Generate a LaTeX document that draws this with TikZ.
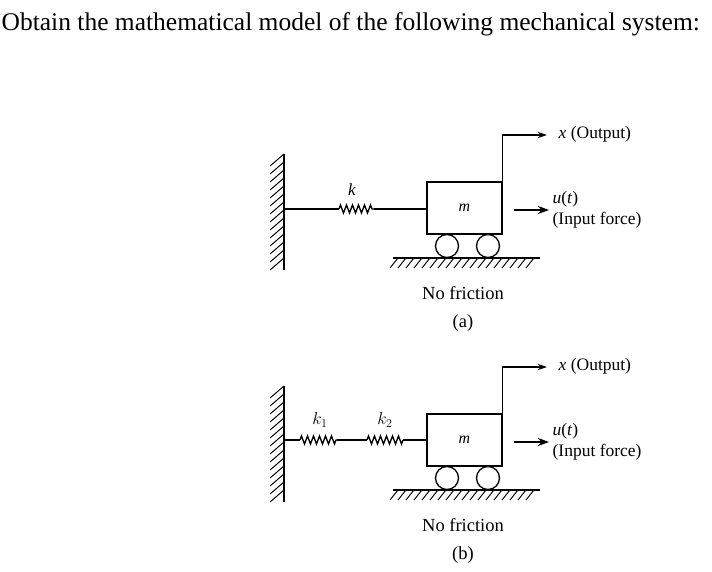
\documentclass[tikz,border=0pt]{standalone}
\usepackage{fontspec}
\setmainfont{Liberation Serif}
\usetikzlibrary{decorations.pathmorphing,arrows.meta}
\begin{document}
\begin{tikzpicture}[x=1pt,y=-1pt,line width=1.3pt,
  spring/.style={decorate,decoration={zigzag,segment length=6pt,amplitude=4pt}},
  lbl/.style={font=\fontsize{17.5}{20}\selectfont,anchor=west,inner sep=0},
  captxt/.style={font=\fontsize{18.5}{21}\selectfont,inner sep=0},
  mass/.style={draw,minimum width=75pt,minimum height=52pt,inner sep=0}]
\useasboundingbox (0,0) rectangle (712,572);
\node[anchor=west,inner sep=0,font=\fontsize{25.5}{28}\selectfont] (title) at (1,24) {Obtain the mathematical model of the following mechanical system:};
\foreach \dy/\tag in {0/a,232/b}{
 \begin{scope}[yshift=-\dy]
  \draw (284,154) -- (284,270);
  \foreach \y in {160,168,...,270} \draw[line width=1pt] (284,\y-6) -- (270,\y+6);
  \draw (393,258) -- (540,258);
  \foreach \x in {398,406,...,540} \draw[line width=1pt] (\x,258) -- (\x-8,268);
  \node[mass] (m\tag) at (464.5,208) {\itshape\fontsize{16}{18}\selectfont m};
  \draw (447,246) circle (11.5);
  \draw (488,246) circle (11.5);
  \coordinate (o\tag) at (547,135);
  \draw[-{Stealth[length=9pt,width=6pt]}] (m\tag.north east) |- (o\tag);
  \node[lbl] at (558,134) {\textit{x} (Output)};
  \draw[line width=2pt,-{Stealth[length=11pt,width=8pt]}] (514,210) -- (549,210);
  \node[lbl] at (552,199) {\textit{u}(\textit{t})};
  \node[lbl] at (552,220) {(Input force)};
  \node[captxt] at (463,293) {No friction};
  \node[captxt] at (463,323) {(\tag)};
 \end{scope}}
\draw (284,209) -- (339,209);
\draw[spring] (339,209) -- (374,209);
\draw (374,209) -- (ma.west|-0,209);
\node[captxt,font=\itshape\fontsize{17}{19}\selectfont] at (352,190) {k};
\draw (284,440) -- (300,440);
\draw[spring] (300,440) -- (337,440);
\draw (337,440) -- (367,440);
\draw[spring] (367,440) -- (403,440);
\draw (403,440) -- (mb.west|-0,440);
\node[captxt,font=\fontsize{17}{19}\selectfont] at (320,420) {$k_1$};
\node[captxt,font=\fontsize{17}{19}\selectfont] at (385,420) {$k_2$};
\end{tikzpicture}
\end{document}
